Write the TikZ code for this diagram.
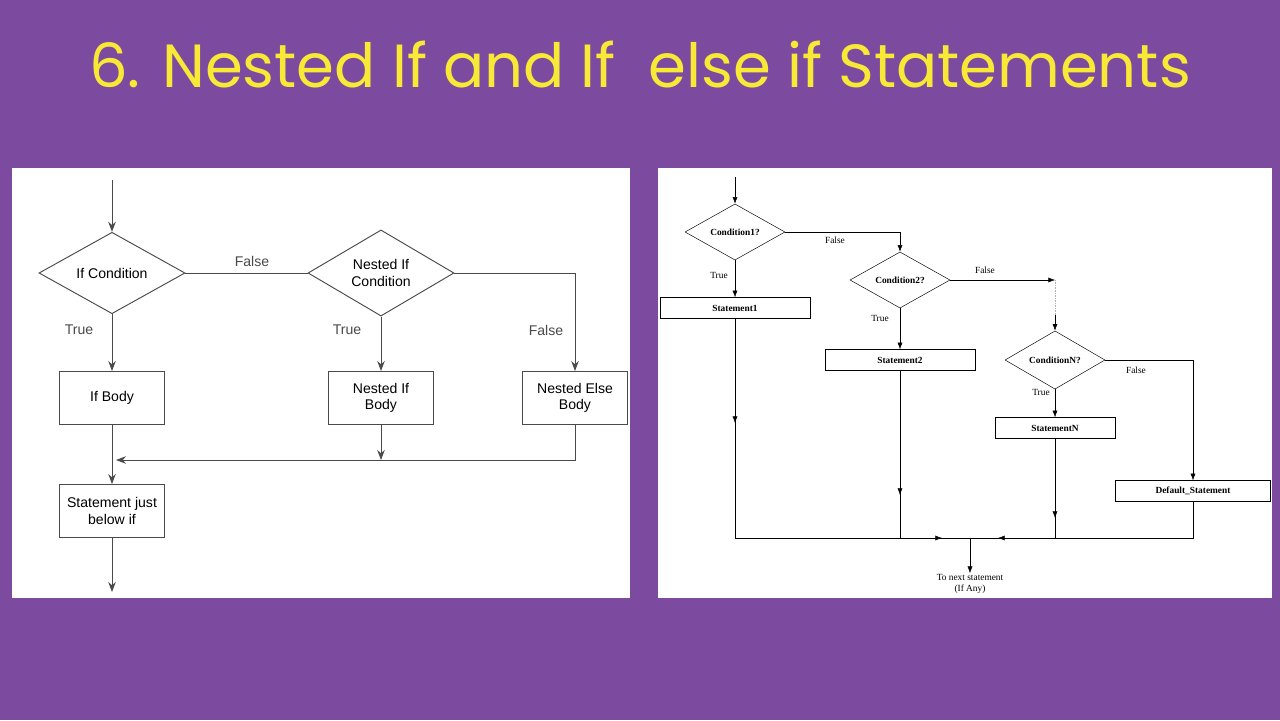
\documentclass[tikz,border=0pt]{standalone}
\usepackage{fontspec}
\setmainfont{Liberation Serif}
\setsansfont{Liberation Sans}
\newfontfamily\titlefont{Poppins}
\usepackage{tikz}
\usetikzlibrary{arrows.meta, positioning, calc, shapes.geometric}
\definecolor{bgpurple}{HTML}{7C4A9E}
\definecolor{titleyellow}{HTML}{F7E935}
\definecolor{linegray}{HTML}{4A4A4A}

\begin{document}
\begin{tikzpicture}[x=0.03cm, y=-0.03cm,
  lcond/.style={diamond, draw=linegray, thick, inner sep=0pt, minimum width=4.38cm, minimum height=2.28cm, align=center, font=\sffamily\large},
  lbox/.style={rectangle, draw=linegray, thick, minimum width=3.15cm, minimum height=1.59cm, align=center, font=\sffamily\large},
  llab/.style={font=\sffamily\large, text=linegray},
  larr/.style={-{Stealth[length=3mm]}, thick, draw=linegray},
  rcond/.style={diamond, draw, inner sep=0pt, minimum width=3cm, minimum height=1.44cm, font=\footnotesize\bfseries},
  rbox/.style={rectangle, draw, minimum height=0.63cm, font=\footnotesize\bfseries},
  rlab/.style={font=\footnotesize},
  rarr/.style={-{Latex[length=2mm]}}]

% background and title
\fill[bgpurple] (0,0) rectangle (1280,720);
\node[text=titleyellow, font=\titlefont\fontsize{52}{60}\selectfont] (title) at (640,64) {6. Nested If and If\ \ else if Statements};

% ---------------- LEFT: nested if ----------------
\fill[white] (12,168) rectangle (630,598);
\node[lcond] (ifc) at (112,273) {If Condition};
\node[lcond] (nic) at (381,273) {Nested If\\Condition};
\node[lbox] (ifb) at (112,398) {If Body};
\node[lbox] (nib) at (381,398) {Nested If\\Body};
\node[lbox] (neb) at (575,398) {Nested Else\\Body};
\node[lbox] (stj) at (112,511) {Statement just\\below if};
\coordinate (lin) at (112,180);
\coordinate (lout) at (112,592);
\coordinate (lmerge) at (112,460);
% Connectors
\draw[larr] (lin) -- (ifc);
\draw[thick, linegray] (ifc) -- (nic);
\draw[larr] (ifc) -- (ifb);
\draw[larr] (nic) -- (nib);
\draw[larr] (nic.east) -| (neb);
\draw[larr] (nib) -- (nib |- lmerge);
\draw[larr] (neb.south) |- ($(lmerge)+(4,0)$);
\draw[larr] (ifb) -- (stj);
\draw[larr] (stj) -- (lout);
% Labels
\node[llab] at (252,261) {False};
\node[llab] at (79,330) {True};
\node[llab] at (347,330) {True};
\node[llab] at (546,330) {False};

% ---------------- RIGHT: else if ladder ----------------
\fill[white] (658,168) rectangle (1272,598);
\node[rcond] (c1) at (735,232) {Condition1?};
\node[rcond] (c2) at (900,280) {Condition2?};
\node[rcond] (cn) at (1055,360) {ConditionN?};
\node[rbox, minimum width=4.5cm] (s1) at (735,308) {Statement1};
\node[rbox, minimum width=4.5cm] (s2) at (900,360) {Statement2};
\node[rbox, minimum width=3.6cm] (sn) at (1055,428) {StatementN};
\node[rbox, minimum width=4.65cm] (sd) at (1193,491) {Default\_Statement};
\coordinate (rin) at (735,177);
\coordinate (rdots) at (1055,280);
\coordinate (rjoin) at (970,538);
\node[rlab, align=center, inner sep=1pt, below=30pt of rjoin] (next) {To next statement\\(If Any)};
% Connectors
\draw[rarr] (rin) -- (c1);
\draw[rarr] (c1.east) -| (c2.north);
\draw[rarr] (c1) -- (s1);
\draw[rarr] (c2) -- (s2);
\draw[rarr] (c2.east) -- (rdots);
\draw[densely dotted, gray!60] (rdots) -- ++(0,35);
\draw[rarr] ($(rdots)+(0,35)$) -- (cn.north);
\draw[rarr] (cn) -- (sn);
\draw[rarr] (cn.east) -| (sd.north);
\draw[rarr] (s1) -- ++(0,115);
\draw (s1) |- (rjoin);
\draw[rarr] (s2) -- ++(0,135);
\draw (s2) -- (s2 |- rjoin);
\draw[rarr] (sn) -- ++(0,90);
\draw (sn) -- (sn |- rjoin);
\draw (sd) |- (rjoin);
\draw[rarr] (900,538) -- (942,538);
\draw[rarr] (1055,538) -- (998,538);
\draw[rarr] (rjoin) -- (next);
% Labels
\node[rlab] at (835,240) {False};
\node[rlab] at (719,275) {True};
\node[rlab] at (985,270) {False};
\node[rlab] at (880,318) {True};
\node[rlab] at (1136,370) {False};
\node[rlab] at (1041,392) {True};
\end{tikzpicture}
\end{document}
